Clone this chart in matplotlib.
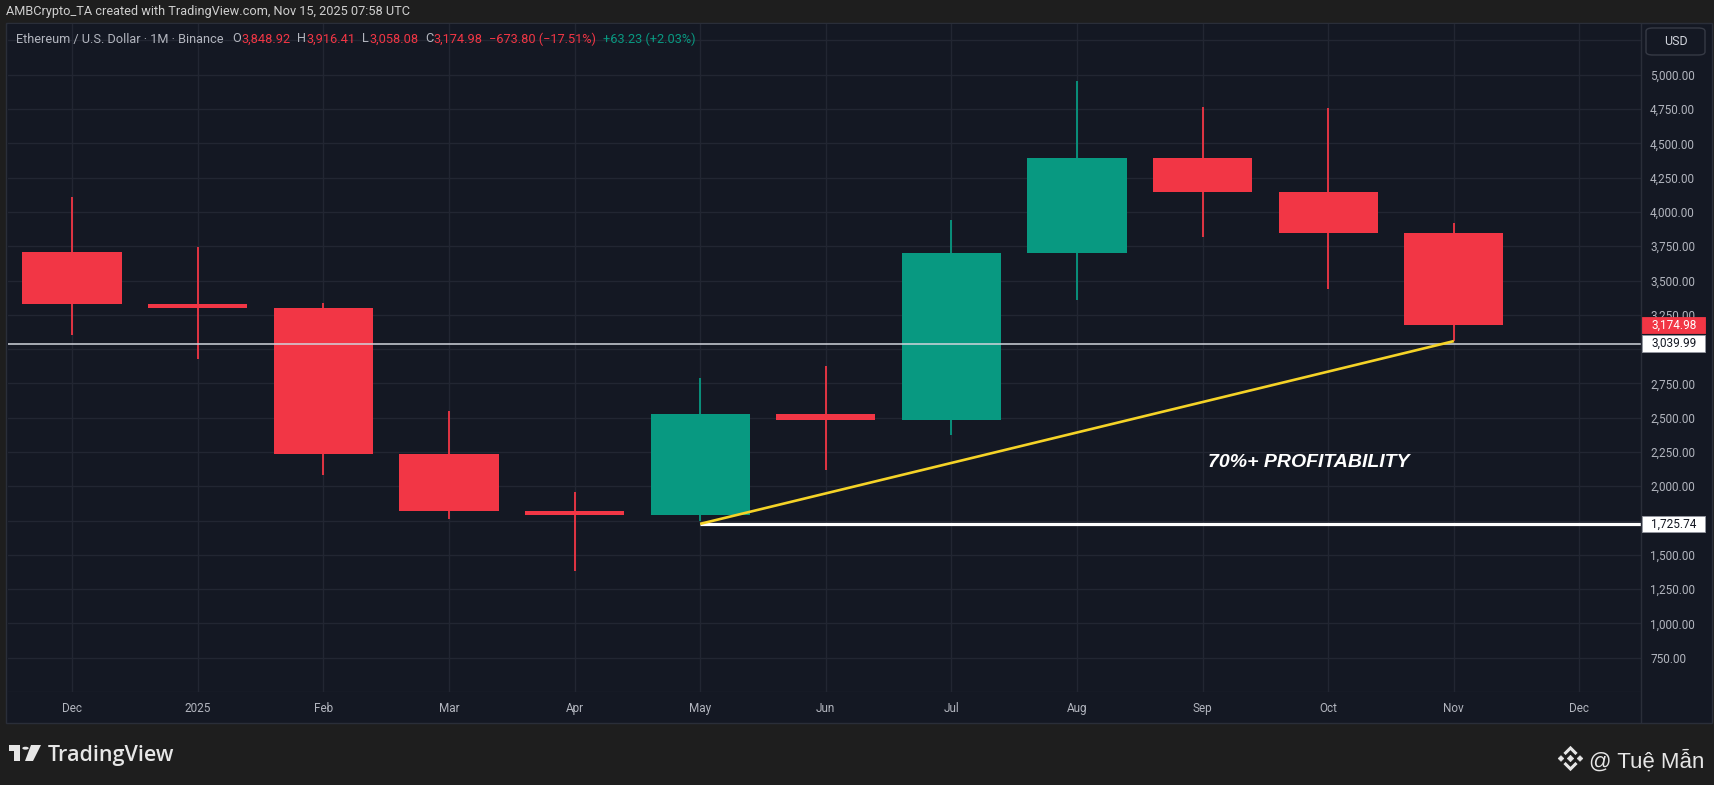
import matplotlib
matplotlib.use("Agg")
import matplotlib.pyplot as plt
from matplotlib.patches import Rectangle, FancyBboxPatch, Polygon, Circle

# ---- data: ETH/USD monthly candles (Binance) ----
month_labels = ['Dec', '2025', 'Feb', 'Mar', 'Apr', 'May', 'Jun', 'Jul', 'Aug', 'Sep', 'Oct', 'Nov', 'Dec']
opens  = [3705.0, 3332.0, 3298.0, 2237.0, 1822.0, 1793.0, 2528.0, 2486.0, 3698.0, 4391.0, 4146.0, 3848.92]
highs  = [4107.8, 3745.0, 3335.0, 2550.0, 1957.0, 2790.0, 2880.0, 3941.0, 4956.0, 4767.0, 4756.0, 3916.41]
lows   = [3099.5, 2930.0, 2085.0, 1760.0, 1385.0, 1750.0, 2115.0, 2375.0, 3355.0, 3820.0, 3440.0, 3058.08]
closes = [3332.0, 3298.0, 2237.0, 1822.0, 1793.0, 2528.0, 2486.0, 3698.0, 4391.0, 4146.0, 3848.78, 3174.98]

support_level = 1725.74          # horizontal support drawn from May onward
marked_level = 3039.99           # horizontal marker across the chart
trend_x = [5, 11]                # May -> Nov
trend_y = [1725.74, 3058.08]
price_ticks = list(range(500, 5251, 250))
labelled_range = (750, 5000)
covered_ticks = [1750, 3000]     # scale labels hidden under the price tags
session_change_text = '+63.23 (+2.03%)'

# ---- style ----
W, H = 1715, 785
BG_OUT = '#1e1e1e'
BG_PANEL = '#141823'
GRID = '#222632'
TXT = '#b2b5be'
UP = '#089981'
DOWN = '#f23645'
FONT = 'Roboto'

plt.rcParams['font.family'] = [FONT, 'DejaVu Sans']

fig = plt.figure(figsize=(W / 100, H / 100), dpi=100, facecolor=BG_OUT)


def fx(px):
    return px / W


def fy(py):
    return 1 - py / H


# chart panel
fig.patches.append(Rectangle((fx(6), fy(723)), fx(1712) - fx(6), fy(23) - fy(723),
                             transform=fig.transFigure, facecolor=BG_PANEL,
                             edgecolor='#2a2e39', lw=1, zorder=-5))

ax = fig.add_axes([fx(8), fy(692), fx(1641) - fx(8), fy(24) - fy(692)])
ax.set_zorder(1)
ax.set_facecolor(BG_PANEL)
ax.set_xlim(-0.51, 12.49)
ax.set_ylim(509, 5370)
for s in ax.spines.values():
    s.set_visible(False)

ax.set_xticks(range(len(month_labels)))
ax.set_xticklabels(month_labels)
ax.set_yticks(price_ticks)
ax.set_yticklabels([f'{v:,.2f}' if (labelled_range[0] <= v <= labelled_range[1] and v not in covered_ticks)
                    else '' for v in price_ticks])
ax.yaxis.tick_right()
ax.tick_params(axis='x', length=0, pad=7.5, labelsize=8.5, labelcolor=TXT)
ax.tick_params(axis='y', length=0, pad=6.5, labelsize=8.5, labelcolor=TXT)
ax.grid(True, color=GRID, lw=1)
ax.set_axisbelow(True)

# candles
xs = list(range(len(opens)))
colors = [UP if c >= o else DOWN for o, c in zip(opens, closes)]
ax.vlines(xs, lows, highs, colors=colors, lw=1.3, zorder=2)
ax.bar(xs, [abs(c - o) for o, c in zip(opens, closes)], bottom=[min(o, c) for o, c in zip(opens, closes)],
       width=0.79, color=colors, lw=0, zorder=3)

# level lines and trendline
ax.axhline(marked_level, color='#d1d4dc', lw=1.1, zorder=4)
ax.hlines(support_level, trend_x[0], 12.49, color='white', lw=2.3, zorder=4)
ax.plot(trend_x, trend_y, color='#f5d327', lw=1.9, zorder=5, solid_capstyle='butt')

ax.text(9.04, 2175, '70%+ PROFITABILITY', color='white', fontsize=14, fontweight='bold',
        fontstyle='italic', family='Liberation Sans', va='center', ha='left', zorder=6)

# price scale separator
fig.add_artist(plt.Line2D([fx(1641), fx(1641)], [fy(24), fy(722)], transform=fig.transFigure,
                          color='#2a2e39', lw=1, zorder=2))

# price tags on the scale
def price_tag(value, face, text_color):
    ypx = ax.transData.transform((0, value))[1]
    yf = ypx / H
    hh = 8.3 / H
    fig.patches.append(Rectangle((fx(1642), yf - hh), fx(1705) - fx(1642), 2 * hh,
                                 transform=fig.transFigure, facecolor=face,
                                 edgecolor='#9598a1' if face == 'white' else face, lw=0.6, zorder=10))
    fig.text(fx(1674), yf, f'{value:,.2f}', color=text_color, fontsize=8.5,
             ha='center', va='center', zorder=11)


price_tag(closes[-1], DOWN, 'white')
price_tag(marked_level, 'white', '#131722')
price_tag(support_level, 'white', '#131722')

# currency box
fig.patches.append(FancyBboxPatch((fx(1646), fy(55)), fx(1705) - fx(1646), fy(28) - fy(55),
                                  boxstyle='round,pad=0,rounding_size=0.004',
                                  transform=fig.transFigure, facecolor=BG_PANEL,
                                  edgecolor='#363a45', lw=1, zorder=10))
fig.text(fx(1675.5), fy(41.5), 'USD', color='#d1d4dc', fontsize=9, ha='center', va='center', zorder=11)

# top caption
fig.text(fx(6), fy(11.5), 'AMBCrypto_TA created with TradingView.com, Nov 15, 2025 07:58 UTC',
         color='#cfcfcf', fontsize=9.2, ha='left', va='center')

# legend line with OHLC of the last candle
renderer = fig.canvas.get_renderer()
val_col = DOWN if closes[-1] < opens[-1] else UP
chg = closes[-1] - closes[-2]
pct = chg / closes[-2] * 100
chg_txt = f'{chg:+,.2f} ({pct:+.2f}%)'.replace('-', '\u2212')
pieces = [
    ('Ethereum / U.S. Dollar \u00b7 1M \u00b7 Binance', TXT, 9),
    ('O', TXT, 0), (f'{opens[-1]:,.2f}', val_col, 7),
    ('H', TXT, 0), (f'{highs[-1]:,.2f}', val_col, 7),
    ('L', TXT, 0), (f'{lows[-1]:,.2f}', val_col, 7),
    ('C', TXT, 0), (f'{closes[-1]:,.2f}', val_col, 7),
    (chg_txt, val_col, 7),
    (session_change_text, UP, 0),
]
xpos = 16
for txt, col, gap in pieces:
    t = fig.text(fx(xpos), fy(39), txt, color=col, fontsize=9.2, ha='left', va='center', zorder=11)
    bb = t.get_window_extent(renderer)
    xpos = bb.x1 + gap

# footer: TradingView mark
logo_col = '#e6e6e6'
fig.patches.append(Polygon([(fx(9), fy(745)), (fx(20.5), fy(745)), (fx(20.5), fy(761)), (fx(14.5), fy(761)),
                            (fx(14.5), fy(751)), (fx(9), fy(751))], closed=True,
                           transform=fig.transFigure, facecolor=logo_col, lw=0))
fig.patches.append(Circle((fx(25.5), fy(748.2)), 3.2 / W, transform=fig.transFigure, facecolor=logo_col, lw=0))
fig.patches.append(Polygon([(fx(31), fy(745)), (fx(41), fy(745)), (fx(33), fy(761)), (fx(25), fy(761))],
                           closed=True, transform=fig.transFigure, facecolor=logo_col, lw=0))
t_tv = fig.text(fx(48), fy(761), 'TradingView', color=logo_col, fontsize=15.5, fontweight='semibold',
                ha='left', va='baseline', family=['Open Sans', 'DejaVu Sans'])

# footer: author mark
cx, cy = 1570.5, 758.5


def diamond(x, y, r):
    pts = [(fx(x), fy(y - r)), (fx(x + r), fy(y)), (fx(x), fy(y + r)), (fx(x - r), fy(y))]
    return Polygon(pts, closed=True, transform=fig.transFigure,
                   facecolor=logo_col, edgecolor=logo_col, lw=0.5)


fig.patches.append(diamond(cx, cy, 3.2))
fig.patches.append(diamond(cx - 9.5, cy, 2.8))
fig.patches.append(diamond(cx + 9.5, cy, 2.8))
for sgn in (-1, 1):
    fig.add_artist(plt.Line2D([fx(cx - 6), fx(cx), fx(cx + 6)],
                              [fy(cy + sgn * 4.5), fy(cy + sgn * 10.5), fy(cy + sgn * 4.5)],
                              transform=fig.transFigure, color=logo_col, lw=2.2,
                              solid_joinstyle='miter', solid_capstyle='butt'))
fig.text(fx(1589), fy(768), '@ Tuệ Mẫn', color=logo_col, fontsize=16, ha='left', va='baseline',
         family=['Liberation Sans', 'DejaVu Sans'])

fig.savefig('out.png', dpi=100, facecolor=BG_OUT)
